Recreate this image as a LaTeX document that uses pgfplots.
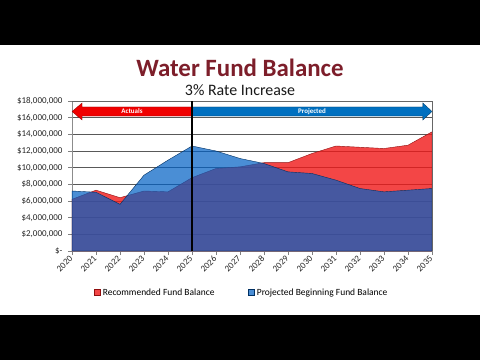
\documentclass[border=0pt]{standalone}
\usepackage{pgfplots}
\pgfplotsset{compat=1.18}
\usepackage{fontspec}
\setmainfont{Carlito}
\definecolor{titlered}{RGB}{125,30,42}
\definecolor{recred}{RGB}{240,24,24}
\definecolor{projblue}{RGB}{0,96,197}
\definecolor{arrred}{RGB}{240,0,0}
\definecolor{arrblue}{RGB}{0,112,192}
\begin{document}
\begin{tikzpicture}[x=1bp,y=1bp]
\fill[black] (0,0) rectangle (480,360);
\fill[white] (0,45) rectangle (480,315);
\node[font=\fontsize{25}{30}\selectfont\bfseries, text=titlered] at (240,292) {Water Fund Balance};
\node[font=\fontsize{16}{19}\selectfont, text=black!90] at (240,270) {3\% Rate Increase};
\begin{axis}[
  at={(72bp,109bp)}, anchor=south west,
  scale only axis, width=360bp, height=150bp,
  xmin=2020, xmax=2035, ymin=0, ymax=18,
  xtick={2020,2021,2022,2023,2024,2025,2026,2027,2028,2029,2030,2031,2032,2033,2034,2035},
  xticklabels={2020,2021,2022,2023,2024,2025,2026,2027,2028,2029,2030,2031,2032,2033,2034,2035},
  ytick={0,2,4,6,8,10,12,14,16,18},
  yticklabels={{\$-},{\$2,000,000},{\$4,000,000},{\$6,000,000},{\$8,000,000},{\$10,000,000},{\$12,000,000},{\$14,000,000},{\$16,000,000},{\$18,000,000}},
  ticklabel style={font=\fontsize{9}{10}\selectfont, text=black!85},
  x tick label style={rotate=45, anchor=east, xshift=1bp, yshift=-1bp},
  y tick label style={xshift=-2bp},
  tick align=outside, tick pos=left,
  major tick length=4bp,
  every tick/.style={black!50},
  axis line style={black!45},
  ymajorgrids, grid style={black!65, line width=0.6bp},
  legend style={at={(0.472,-0.277)}, anchor=center, draw=none, fill=none,
    font=\fontsize{9.5}{11}\selectfont, legend columns=2,
    /tikz/every even column/.append style={column sep=32bp}},
  legend cell align=left,
  legend image code/.code={\fill[#1] (0bp,-3bp) rectangle (6bp,3bp); \draw[#1, fill=none, line width=0.4bp] (0bp,-3bp) rectangle (6bp,3bp);},
  clip=false,
]
\addplot[fill=recred, fill opacity=0.8, draw=recred!60!black, line width=0.4bp] coordinates {
 (2020,6.2) (2021,7.3) (2022,6.4) (2023,7.2) (2024,7.1) (2025,8.8) (2026,9.9) (2027,10.1) (2028,10.6) (2029,10.6) (2030,11.7) (2031,12.6) (2032,12.45) (2033,12.3) (2034,12.7) (2035,14.3)
} \closedcycle;
\addlegendentry{Recommended Fund Balance}
\addplot[fill=projblue, fill opacity=0.71, draw=projblue!50!black, line width=0.4bp] coordinates {
 (2020,7.2) (2021,7.05) (2022,5.6) (2023,9.1) (2024,10.9) (2025,12.6) (2026,12.0) (2027,11.1) (2028,10.5) (2029,9.5) (2030,9.3) (2031,8.5) (2032,7.5) (2033,7.1) (2034,7.3) (2035,7.5)
} \closedcycle;
\addlegendentry{Projected Beginning Fund Balance}
\draw[black!60, line width=0.6bp] (axis cs:2020,18) -- (axis cs:2035,18) -- (axis cs:2035,0);
\fill[arrred, draw=arrred!60!black, line width=0.3bp] (axis cs:2025,16.2) -- (axis cs:2020.42,16.2) -- (axis cs:2020.42,15.72) -- (axis cs:2020,16.74) -- (axis cs:2020.42,17.76) -- (axis cs:2020.42,17.28) -- (axis cs:2025,17.28) -- cycle;
\fill[arrblue, draw=arrblue!50!black, line width=0.3bp] (axis cs:2025,16.2) -- (axis cs:2034.62,16.2) -- (axis cs:2034.62,15.72) -- (axis cs:2035,16.74) -- (axis cs:2034.62,17.76) -- (axis cs:2034.62,17.28) -- (axis cs:2025,17.28) -- cycle;
\node[text=white, font=\fontsize{7}{8}\selectfont\bfseries] at (axis cs:2022.5,16.74) {Actuals};
\node[text=white, font=\fontsize{7}{8}\selectfont\bfseries] at (axis cs:2030,16.74) {Projected};
\draw[black, line width=1.2bp] (axis cs:2025,0) -- (axis cs:2025,18);
\end{axis}
\end{tikzpicture}
\end{document}
